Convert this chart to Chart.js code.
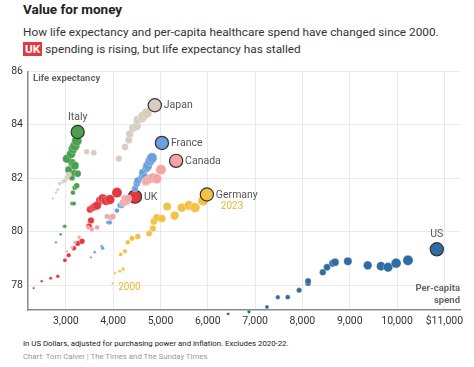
<!DOCTYPE html>
<html lang="en">
<head>
    <meta charset="UTF-8">
    <title>Value for money</title>
    <script src="https://cdn.jsdelivr.net/npm/chart.js"></script>
    <style>
        body {
            margin: 0;
            width: 474px;
            height: 367px;
            background: #fff;
            position: relative;
            overflow: hidden;
            font-family: 'Roboto', sans-serif;
            color: #222;
        }
        #title {
            position: absolute;
            left: 23px;
            top: 1px;
            font-size: 13.5px;
            font-weight: 700;
            color: #222;
        }
        #subtitle {
            position: absolute;
            left: 23px;
            top: 24px;
            font-size: 11.8px;
            line-height: 16.5px;
            color: #333;
        }
        .uk {
            background: #e03a40;
            color: #fff;
            font-weight: 700;
            padding: 0 2px;
        }
        #wrap {
            position: absolute;
            left: 0;
            top: 60px;
            width: 474px;
            height: 275px;
        }
        #note {
            position: absolute;
            left: 23px;
            top: 339px;
            font-size: 7.8px;
            color: #222;
        }
        #credit {
            position: absolute;
            left: 23px;
            top: 352px;
            font-size: 7.8px;
            color: #999;
        }
    </style>
</head>
<body>
    <div id="title">Value for money</div>
    <div id="subtitle">How life expectancy and per-capita healthcare spend have changed since 2000.<br><span class="uk">UK</span> spending is rising, but life expectancy has stalled</div>
    <div id="wrap"><canvas id="chart"></canvas></div>
    <div id="note">In US Dollars, adjusted for purchasing power and inflation. Excludes 2020-22.</div>
    <div id="credit">Chart: Tom Calver | The Times and The Sunday Times</div>

    <script>
        // years shown (2020-22 excluded)
        const years = [2000, 2001, 2002, 2003, 2004, 2005, 2006, 2007, 2008, 2009, 2010,
                       2011, 2012, 2013, 2014, 2015, 2016, 2017, 2018, 2019, 2023];

        const japanSpend = [2725, 2790, 2830, 2870, 2940, 2980, 3020, 3060, 3440, 3590, 4120, 4250, 4330, 4350, 4420, 4500, 4520, 4610, 4630, 4710, 4880];
        const japanLife  = [81.24, 81.46, 81.57, 81.80, 81.87, 81.91, 82.02, 82.13, 82.99, 82.95, 82.73, 83.17, 83.43, 83.66, 83.88, 83.95, 84.18, 84.25, 84.32, 84.44, 84.73];

        const italySpend = [2790, 2890, 2960, 2980, 3130, 3170, 3150, 3190, 3230, 3130, 3170, 3250, 3060, 3130, 3190, 3020, 3110, 3150, 3190, 3230, 3250];
        const italyLife  = [79.6, 79.9, 80.2, 80.2, 81.05, 81.05, 81.46, 81.65, 81.72, 82.02, 82.2, 82.17, 82.32, 82.58, 82.47, 82.73, 82.91, 83.1, 83.21, 83.4, 83.73];

        const canadaSpend = [3020, 3130, 3190, 3280, 3470, 3550, 3660, 3870, 3950, 3990, 4210, 4290, 4250, 4310, 4690, 4710, 4780, 4840, 4920, 5010, 5330];
        const canadaLife  = [79.27, 79.41, 79.60, 79.79, 80.16, 80.08, 80.16, 80.57, 80.53, 80.57, 81.05, 81.13, 81.24, 81.24, 81.87, 81.91, 81.98, 82.02, 81.98, 82.32, 82.65];

        const franceSpend = [3530, 3610, 3760, 3780, 3890, 3930, 4080, 4140, 4180, 4200, 4460, 4500, 4520, 4610, 4630, 4670, 4710, 4730, 4780, 4820, 5030];
        const franceLife  = [79.04, 79.23, 79.45, 79.38, 80.34, 80.34, 80.79, 80.98, 80.98, 81.09, 81.61, 81.80, 81.91, 82.02, 82.20, 82.02, 82.39, 82.47, 82.65, 82.76, 83.32];

        const ukSpend = [2320, 2490, 2680, 2830, 2980, 3060, 3170, 3250, 3340, 3490, 3530, 3510, 3570, 3610, 3720, 3660, 3780, 3850, 3930, 4080, 4460];
        const ukLife  = [77.89, 78.15, 78.26, 78.33, 78.93, 79.12, 79.38, 79.56, 79.64, 80.20, 80.42, 80.83, 80.90, 80.94, 81.16, 80.98, 81.24, 81.16, 81.20, 81.46, 81.31];

        const germanySpend = [3990, 4040, 4140, 4210, 4160, 4250, 4310, 4400, 4520, 4760, 4840, 4860, 4920, 5030, 5140, 5300, 5450, 5600, 5730, 5900, 5980];
        const germanyLife  = [78.07, 78.45, 78.52, 78.60, 79.15, 79.27, 79.60, 79.75, 79.82, 79.93, 80.12, 80.38, 80.53, 80.49, 80.94, 80.60, 80.90, 80.98, 80.90, 81.16, 81.39];

        const usSpend = [5940, 6190, 6430, 6870, 7250, 7480, 7690, 7930, 8120, 8120, 8430, 8520, 8640, 8690, 8960, 9380, 9660, 9810, 9980, 10230, 10840];
        const usLife  = [76.47, 76.70, 76.92, 77.00, 77.18, 77.55, 77.55, 77.81, 78.07, 78.15, 78.48, 78.67, 78.82, 78.86, 78.89, 78.74, 78.71, 78.67, 78.82, 78.93, 79.34];

        const xTicks = [3000, 4000, 5000, 6000, 7000, 8000, 9000, 10000, 11000];
        const xTickLabels = ['3,000', '4,000', '5,000', '6,000', '7,000', '8,000', '9,000', '10,000', '$11,000'];
        const yTicks = [78, 80, 82, 84, 86];

        const countries = [
            { name: 'Japan',   spend: japanSpend,   life: japanLife,   color: '#d8cdc1' },
            { name: 'Italy',   spend: italySpend,   life: italyLife,   color: '#4c9f4f' },
            { name: 'Canada',  spend: canadaSpend,  life: canadaLife,  color: '#f4a4a4' },
            { name: 'France',  spend: franceSpend,  life: franceLife,  color: '#6b9fdd' },
            { name: 'UK',      spend: ukSpend,      life: ukLife,      color: '#e2393f' },
            { name: 'Germany', spend: germanySpend, life: germanyLife, color: '#f2c246' },
            { name: 'US',      spend: usSpend,      life: usLife,      color: '#2f6ca3' }
        ];

        const last = years.length - 1;

        // point size grows with the year, final year is the outlined one
        function radius(ctx) {
            const i = ctx.dataIndex;
            if (i === last) return 6.6;
            return 1.2 + (i / (last - 1)) * 3.9;
        }

        const datasets = countries.map(c => ({
            label: c.name,
            data: years.map((y, i) => ({ x: c.spend[i], y: c.life[i] })),
            backgroundColor: c.color,
            pointRadius: radius,
            pointBorderColor: ctx => ctx.dataIndex === last ? '#333' : 'rgba(255,255,255,0.55)',
            pointBorderWidth: ctx => ctx.dataIndex === last ? 1.2 : 0.5,
            clip: { left: 10, top: 10, right: 10, bottom: 5 }
        }));

        // labels next to points: [dataset name, year, text, position, colour]
        const pointLabels = [
            ['Italy', 2023, 'Italy', 'above', '#555'],
            ['Japan', 2023, 'Japan', 'right', '#555'],
            ['France', 2023, 'France', 'right', '#555'],
            ['Canada', 2023, 'Canada', 'right', '#555'],
            ['UK', 2023, 'UK', 'right', '#555'],
            ['Germany', 2023, 'Germany', 'right', '#555'],
            ['Germany', 2023, '2023', 'below', '#e7b631'],
            ['Germany', 2000, '2000', 'rightlow', '#e7b631'],
            ['US', 2023, 'US', 'above', '#555']
        ];

        const labelPlugin = {
            id: 'pointLabels',
            afterDatasetsDraw(chart) {
                const ctx = chart.ctx;
                const area = chart.chartArea;
                ctx.save();
                ctx.textBaseline = 'middle';
                pointLabels.forEach(([name, year, text, pos, color]) => {
                    const di = countries.findIndex(c => c.name === name);
                    const pt = chart.getDatasetMeta(di).data[years.indexOf(year)];
                    ctx.fillStyle = color;
                    ctx.font = '10.5px Roboto';
                    if (pos === 'above') {
                        ctx.textAlign = 'center';
                        ctx.fillText(text, pt.x, pt.y - 15);
                    } else if (pos === 'right') {
                        ctx.textAlign = 'left';
                        ctx.fillText(text, pt.x + 9, pt.y + 0.5);
                    } else if (pos === 'below') {
                        ctx.textAlign = 'left';
                        ctx.font = '10px Roboto';
                        ctx.fillText(text, pt.x + 14, pt.y + 12);
                    } else {
                        ctx.textAlign = 'left';
                        ctx.font = '10px Roboto';
                        ctx.fillText(text, pt.x + 5.5, pt.y + 4);
                    }
                });
                // axis titles inside the plot
                ctx.fillStyle = '#666';
                ctx.font = 'bold 9.5px Roboto';
                ctx.textAlign = 'left';
                ctx.fillText('Life expectancy', area.left + 5, area.top + 7);
                ctx.textAlign = 'right';
                ctx.fillText('Per-capita', area.right, area.bottom - 21);
                ctx.fillText('spend', area.right, area.bottom - 9);
                ctx.restore();
            }
        };

        Chart.defaults.font.family = 'Roboto';

        new Chart(document.getElementById('chart'), {
            type: 'scatter',
            data: { datasets: datasets },
            options: {
                responsive: true,
                maintainAspectRatio: false,
                animation: false,
                events: [],
                layout: { padding: { top: 9, right: 14, left: 0, bottom: 0 } },
                plugins: {
                    legend: { display: false },
                    tooltip: { enabled: false }
                },
                scales: {
                    x: {
                        type: 'linear',
                        min: 2200,
                        max: 11330,
                        afterFit: s => { s.height = 25; },
                        afterBuildTicks: s => { s.ticks = xTicks.map(v => ({ value: v })); },
                        ticks: {
                            color: '#333',
                            font: { size: 10.5 },
                            padding: 5,
                            callback: v => xTickLabels[xTicks.indexOf(v)]
                        },
                        grid: { color: '#e9e9e9', drawTicks: false },
                        border: { color: '#8a8a8a', width: 1.5 }
                    },
                    y: {
                        min: 77.07,
                        max: 86,
                        afterFit: s => { s.width = 28; },
                        afterBuildTicks: s => { s.ticks = yTicks.map(v => ({ value: v })); },
                        ticks: {
                            color: '#333',
                            font: { size: 10.5 },
                            padding: 5
                        },
                        grid: { color: '#e9e9e9', drawTicks: false },
                        border: { color: '#8a8a8a', width: 1.5 }
                    }
                }
            },
            plugins: [labelPlugin]
        });
    </script>
</body>
</html>
